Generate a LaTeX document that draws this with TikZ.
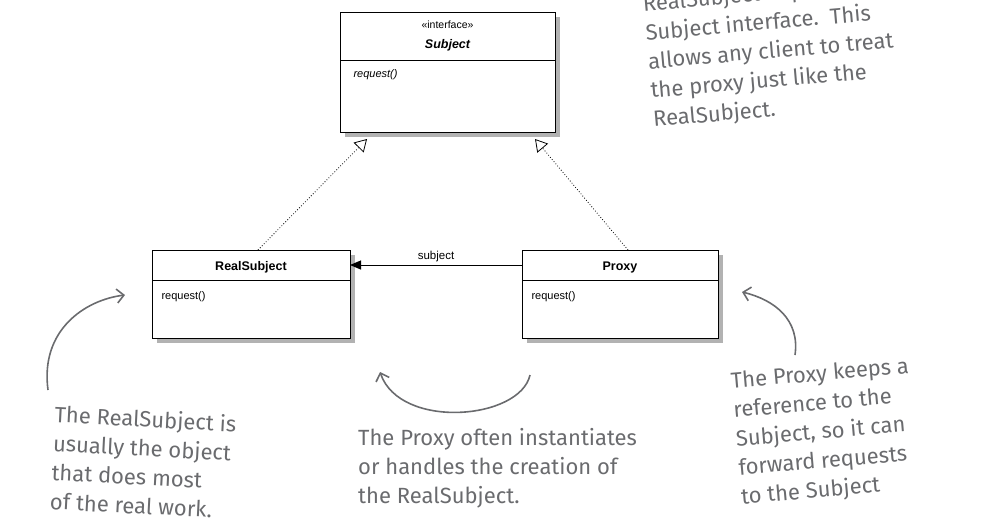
\documentclass[tikz,border=0pt]{standalone}
\usepackage{fontspec}
\setmainfont{Liberation Sans}
\newfontfamily\hand{Fira Sans}
\usetikzlibrary{arrows.meta}
\definecolor{note}{HTML}{6A6B6E}
\begin{document}
\begin{tikzpicture}[x=1pt,y=-1pt,
  cls/.style={draw=black,fill=white,line width=0.6pt},
  shad/.style={fill=black!30},
  notetext/.style={font=\hand\fontsize{22}{29}\selectfont,text=note,align=left,anchor=north west,inner sep=0pt},
  curve/.style={draw=note,line width=1.6pt,-{Straight Barb[length=7pt,width=14pt]}},
  real/.style={dotted,line width=0.8pt,-{Triangle[open,length=12pt,width=14pt,fill=white]}}]
\useasboundingbox[clip] (0,0) rectangle (984,517);
% Subject
\fill[shad] (345,17) rectangle (560,137);
\draw[cls] (340,12) rectangle (555,132);
\draw (340,60) -- (555,60);
\node[font=\fontsize{10.5}{11}\selectfont] (subj) at (447.5,25) {<<interface>>};
\node[font=\bfseries\itshape\fontsize{12.5}{13}\selectfont] at (447.5,45) {Subject};
\node[font=\itshape\fontsize{11}{12}\selectfont,anchor=west] at (350,75) {request()};
% RealSubject
\fill[shad] (157,255) rectangle (355,343);
\draw[cls] (152,250) rectangle (350,338);
\draw (152,280) -- (350,280);
\node[font=\bfseries\fontsize{12.5}{13}\selectfont] (rs) at (251,267) {RealSubject};
\node[font=\fontsize{11}{12}\selectfont,anchor=west] at (158,297) {request()};
\coordinate (rsE) at (350,265);
\coordinate (rsT) at (258,250);
% Proxy
\fill[shad] (527,255) rectangle (723,343);
\draw[cls] (522,250) rectangle (718,338);
\draw (522,280) -- (718,280);
\node[font=\bfseries\fontsize{12.5}{13}\selectfont] (px) at (620,267) {Proxy};
\node[font=\fontsize{11}{12}\selectfont,anchor=west] at (528,297) {request()};
\coordinate (pxW) at (522,265);
\coordinate (pxT) at (628,250);
\coordinate (sA) at (367,139);
\coordinate (sB) at (535,139);
% connectors
\draw[line width=1pt,-{Triangle[length=11pt,width=9pt]}] (pxW) -- node[above,font=\fontsize{11.5}{12}\selectfont,yshift=-1pt]{subject} (rsE);
\draw[real] (rsT) -- (sA);
\draw[real] (pxT) -- (sB);
% hand arrows
\draw[curve] (48,390) .. controls (40,330) and (85,300) .. (125,295);
\draw[curve] (530,375) .. controls (520,420) and (400,430) .. (380,372);
\draw[curve] (795,355) .. controls (800,320) and (775,300) .. (742,292);
% notes
\node[notetext,rotate=-3] at (55,405) {The RealSubject is\\usually the object\\that does most\\of the real work.};
\node[notetext] at (358,428) {The Proxy often instantiates\\or handles the creation of\\the RealSubject.};
\node[notetext,rotate=5] at (730,372) {The Proxy keeps a\\reference to the\\Subject, so it can\\forward requests\\to the Subject};
\node[notetext,rotate=5] at (642,-6) {RealSubject implement the\\Subject interface.\ \ This\\allows any client to treat\\the proxy just like the\\RealSubject.};
\end{tikzpicture}
\end{document}
